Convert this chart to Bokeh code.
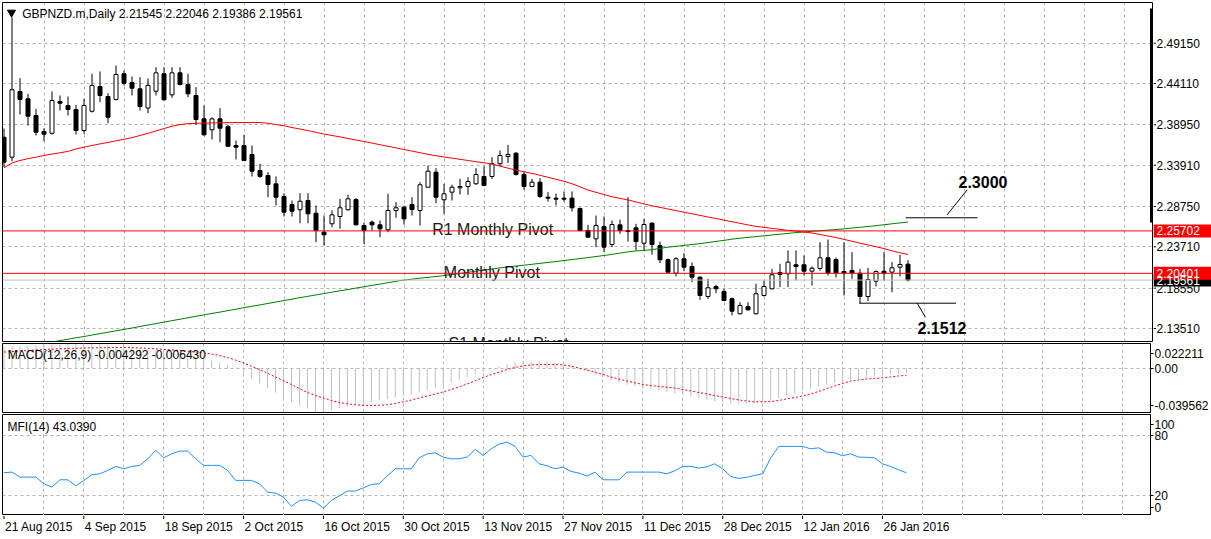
from bokeh.plotting import figure
from bokeh.layouts import column, row
from bokeh.models import Range1d, FixedTicker, Grid, Span, ColumnDataSource
from bokeh.core.properties import value
from bokeh.embed import file_html
from bokeh.resources import INLINE

# ---------------- data ----------------
symbol = "GBPNZD.m"
timeframe = "Daily"

open_price = [2.3740, 2.3491, 2.4312, 2.4220, 2.4012, 2.3812, 2.3790, 2.4187, 2.4137, 2.4087,
              2.3824, 2.4065, 2.4374, 2.4249, 2.4212, 2.4533, 2.4424, 2.4345, 2.4105, 2.4315,
              2.4533, 2.4270, 2.4545, 2.4399, 2.4262, 2.3970, 2.3833, 2.3970, 2.3874, 2.3637,
              2.3637, 2.3525, 2.3325, 2.3262, 2.3158, 2.3000, 2.2900, 2.2834, 2.2950, 2.2791,
              2.2554, 2.2659, 2.2750, 2.2834, 2.2962, 2.2637, 2.2679, 2.2646, 2.2584, 2.2825,
              2.2866, 2.2900, 2.2825, 2.3116, 2.3304, 2.2959, 2.3054, 2.3109, 2.3125, 2.3159,
              2.3250, 2.3250, 2.3409, 2.3500, 2.3541, 2.3275, 2.3125, 2.3179, 2.2991, 2.2979,
              2.2979, 2.2979, 2.2850, 2.2575, 2.2471, 2.2625, 2.2400, 2.2646, 2.2575, 2.2609,
              2.2416, 2.2666, 2.2387, 2.2210, 2.2042, 2.2222, 2.2126, 2.1992, 2.1751, 2.1876,
              2.1814, 2.1722, 2.1535, 2.1626, 2.1535, 2.1763, 2.1847, 2.2051, 2.2035, 2.2147,
              2.2147, 2.2067, 2.2101, 2.2234, 2.2213, 2.2063, 2.2076, 2.2042, 2.1751, 2.1942,
              2.2067, 2.2055, 2.2117, 2.21545]
high_price = [2.3849, 2.5239, 2.4478, 2.4283, 2.4095, 2.3853, 2.4312, 2.4262, 2.4249, 2.4145,
              2.4220, 2.4533, 2.4562, 2.4290, 2.4637, 2.4574, 2.4499, 2.4490, 2.4474, 2.4615,
              2.4615, 2.4615, 2.4615, 2.4533, 2.4366, 2.4137, 2.3990, 2.4103, 2.3895, 2.3699,
              2.3770, 2.3637, 2.3409, 2.3304, 2.3250, 2.3041, 2.2950, 2.3041, 2.3041, 2.2887,
              2.2762, 2.2825, 2.2971, 2.3021, 2.2979, 2.2675, 2.2700, 2.2700, 2.3034, 2.2929,
              2.2887, 2.2991, 2.3179, 2.3387, 2.3354, 2.3159, 2.3146, 2.3221, 2.3241, 2.3354,
              2.3375, 2.3491, 2.3575, 2.3645, 2.3554, 2.3304, 2.3221, 2.3229, 2.3054, 2.3037,
              2.3062, 2.3062, 2.2862, 2.2646, 2.2762, 2.2750, 2.2700, 2.2712, 2.2991, 2.2659,
              2.2721, 2.2679, 2.2437, 2.2226, 2.2242, 2.2292, 2.2176, 2.2001, 2.1972, 2.1897,
              2.1847, 2.1738, 2.1679, 2.1679, 2.1910, 2.1951, 2.2097, 2.2160, 2.2326, 2.2326,
              2.2263, 2.2126, 2.2429, 2.2462, 2.2238, 2.2429, 2.2305, 2.2097, 2.2109, 2.2076,
              2.2305, 2.2180, 2.2270, 2.22046]
low_price = [2.3366, 2.3441, 2.4024, 2.3886, 2.3762, 2.3690, 2.3774, 2.4074, 2.4012, 2.3774,
             2.3783, 2.4049, 2.4178, 2.3915, 2.4199, 2.4387, 2.4262, 2.4074, 2.4040, 2.4262,
             2.4199, 2.4233, 2.4387, 2.4240, 2.3895, 2.3762, 2.3711, 2.3678, 2.3618, 2.3462,
             2.3444, 2.3250, 2.3234, 2.2991, 2.2887, 2.2750, 2.2750, 2.2666, 2.2666, 2.2429,
             2.2387, 2.2616, 2.2596, 2.2825, 2.2637, 2.2409, 2.2575, 2.2492, 2.2554, 2.2734,
             2.2650, 2.2762, 2.2637, 2.3109, 2.2916, 2.2784, 2.2950, 2.3025, 2.3021, 2.3146,
             2.3129, 2.3221, 2.3375, 2.3416, 2.3262, 2.3084, 2.3116, 2.2984, 2.2937, 2.2887,
             2.2937, 2.2812, 2.2566, 2.2484, 2.2367, 2.2304, 2.2367, 2.2534, 2.2437, 2.2326,
             2.2326, 2.2272, 2.2167, 2.2045, 2.2001, 2.2067, 2.1930, 2.1710, 2.1722, 2.1792,
             2.1692, 2.1514, 2.1526, 2.1576, 2.1526, 2.1751, 2.1838, 2.1867, 2.1867, 2.1951,
             2.2013, 2.1888, 2.2076, 2.2013, 2.1988, 2.1763, 2.1972, 2.1667, 2.1692, 2.1876,
             2.1951, 2.1805, 2.2001, 2.19386]
close_price = [2.3429, 2.4333, 2.4212, 2.4003, 2.3803, 2.3778, 2.4199, 2.4165, 2.4087, 2.3824,
               2.4137, 2.4387, 2.4262, 2.3990, 2.4524, 2.4415, 2.4353, 2.4124, 2.4387, 2.4545,
               2.4208, 2.4545, 2.4399, 2.4283, 2.3962, 2.3770, 2.3970, 2.3853, 2.3628, 2.3616,
               2.3450, 2.3316, 2.3250, 2.3150, 2.2991, 2.2804, 2.2816, 2.2941, 2.2784, 2.2575,
               2.2521, 2.2771, 2.2859, 2.2971, 2.2646, 2.2575, 2.2646, 2.2596, 2.2825, 2.2859,
               2.2721, 2.2837, 2.3146, 2.3316, 2.2991, 2.3034, 2.3116, 2.3125, 2.3187, 2.3275,
               2.3137, 2.3409, 2.3512, 2.3525, 2.3275, 2.3125, 2.3179, 2.3000, 2.2979, 2.2966,
               2.2966, 2.2859, 2.2575, 2.2492, 2.2637, 2.2367, 2.2650, 2.2575, 2.2562, 2.2437,
               2.2650, 2.2400, 2.2210, 2.2055, 2.2222, 2.2117, 2.1992, 2.1763, 2.1860, 2.1847,
               2.1701, 2.1567, 2.1638, 2.1584, 2.1785, 2.1876, 2.2022, 2.2026, 2.2180, 2.2126,
               2.2067, 2.2104, 2.2234, 2.2045, 2.2045, 2.2045, 2.2045, 2.1751, 2.1963, 2.2063,
               2.2042, 2.2109, 2.2151, 2.19561]

ma_red = [2.3359, 2.3419, 2.3450, 2.3472, 2.3492, 2.3512, 2.3530, 2.3546, 2.3564, 2.3594,
          2.3616, 2.3637, 2.3657, 2.3675, 2.3695, 2.3715, 2.3735, 2.3762, 2.3789, 2.3819,
          2.3849, 2.3878, 2.3899, 2.3910, 2.3914, 2.3917, 2.3919, 2.3920, 2.3923, 2.3924,
          2.3924, 2.3924, 2.3924, 2.3915, 2.3899, 2.3883, 2.3861, 2.3843, 2.3824, 2.3802,
          2.3780, 2.3762, 2.3745, 2.3725, 2.3705, 2.3687, 2.3667, 2.3647, 2.3627, 2.3607,
          2.3587, 2.3567, 2.3547, 2.3527, 2.3509, 2.3494, 2.3479, 2.3464, 2.3450, 2.3435,
          2.3421, 2.3405, 2.3380, 2.3354, 2.3329, 2.3309, 2.3289, 2.3265, 2.3240, 2.3215,
          2.3190, 2.3159, 2.3121, 2.3081, 2.3052, 2.3025, 2.2997, 2.2977, 2.2957, 2.2932,
          2.2907, 2.2884, 2.2864, 2.2844, 2.2824, 2.2804, 2.2784, 2.2764, 2.2744, 2.2725,
          2.2705, 2.2685, 2.2665, 2.2645, 2.2627, 2.2615, 2.2602, 2.2590, 2.2577, 2.2567,
          2.2556, 2.2544, 2.2526, 2.2506, 2.2487, 2.2464, 2.2441, 2.2417, 2.2395, 2.2372,
          2.2350, 2.2322, 2.2297, 2.2276]
ma_green = [2.1064, 2.1083, 2.1101, 2.1120, 2.1139, 2.1160, 2.1181, 2.1200, 2.1217, 2.1235,
            2.1251, 2.1269, 2.1287, 2.1305, 2.1322, 2.1340, 2.1357, 2.1376, 2.1395, 2.1412,
            2.1431, 2.1449, 2.1467, 2.1485, 2.1504, 2.1521, 2.1539, 2.1556, 2.1575, 2.1592,
            2.1611, 2.1629, 2.1646, 2.1664, 2.1682, 2.1700, 2.1718, 2.1737, 2.1753, 2.1771,
            2.1788, 2.1805, 2.1822, 2.1838, 2.1856, 2.1872, 2.1890, 2.1906, 2.1923, 2.1941,
            2.1956, 2.1967, 2.1979, 2.1990, 2.2001, 2.2012, 2.2025, 2.2039, 2.2052, 2.2067,
            2.2081, 2.2095, 2.2108, 2.2120, 2.2131, 2.2142, 2.2153, 2.2165, 2.2176, 2.2187,
            2.2200, 2.2212, 2.2225, 2.2237, 2.2250, 2.2263, 2.2278, 2.2293, 2.2308, 2.2320,
            2.2326, 2.2336, 2.2352, 2.2367, 2.2378, 2.2389, 2.2400, 2.2411, 2.2425, 2.2439,
            2.2452, 2.2467, 2.2479, 2.2489, 2.2499, 2.2509, 2.2519, 2.2529, 2.2539, 2.2549,
            2.2557, 2.2565, 2.2572, 2.2580, 2.2587, 2.2596, 2.2606, 2.2616, 2.2625, 2.2636,
            2.2647, 2.2659, 2.2670, 2.2681]

macd_main = [0.0190, 0.0196, 0.0200, 0.0204, 0.0207, 0.0210, 0.0213, 0.0216, 0.0218, 0.0220,
             0.022211, 0.0221, 0.0219, 0.0213, 0.0205, 0.0196, 0.0186, 0.0176, 0.0165, 0.0155,
             0.0145, 0.0136, 0.0126, 0.0114, 0.0100, 0.0085, 0.0068, 0.0048, 0.0026, 0.0002,
             -0.0045, -0.0090, -0.0138, -0.0180, -0.0220, -0.0265, -0.0305, -0.0337, -0.0365, -0.039562,
             -0.0385, -0.0376, -0.0362, -0.0345, -0.0330, -0.0318, -0.0305, -0.0292, -0.0280, -0.0266,
             -0.0250, -0.0236, -0.0220, -0.0200, -0.0178, -0.0155, -0.0130, -0.0105, -0.0080, -0.0055,
             -0.0030, -0.0008, 0.0015, 0.0035, 0.0052, 0.0062, 0.0066, 0.0064, 0.0058, 0.0048,
             0.0035, 0.0018, -0.0005, -0.0030, -0.0058, -0.0085, -0.0110, -0.0132, -0.0150, -0.0165,
             -0.0178, -0.0190, -0.0202, -0.0215, -0.0228, -0.0240, -0.0255, -0.0270, -0.0285, -0.0298,
             -0.0310, -0.0320, -0.0325, -0.0322, -0.0315, -0.0305, -0.0290, -0.0272, -0.0250, -0.0228,
             -0.0205, -0.0185, -0.0165, -0.0148, -0.0132, -0.0118, -0.0105, -0.0095, -0.0085, -0.0075,
             -0.0065, -0.0056, -0.0049, -0.004292]
macd_signal = [0.0145, 0.0150, 0.0154, 0.0159, 0.0163, 0.0168, 0.0171, 0.0174, 0.0177, 0.0179,
               0.0182, 0.0183, 0.0184, 0.0185, 0.0186, 0.0185, 0.0184, 0.0182, 0.0179, 0.0174,
               0.0170, 0.0164, 0.0159, 0.0153, 0.0145, 0.0136, 0.0127, 0.0114, 0.0096, 0.0073,
               0.0046, 0.0017, -0.0012, -0.0046, -0.0080, -0.0114, -0.0148, -0.0184, -0.0220, -0.0247,
               -0.0269, -0.0292, -0.0310, -0.0322, -0.0331, -0.0335, -0.0337, -0.0335, -0.0331, -0.0319,
               -0.0304, -0.0288, -0.0269, -0.0251, -0.0233, -0.0214, -0.0193, -0.0169, -0.0143, -0.0114,
               -0.0085, -0.0059, -0.0035, -0.0012, 0.0006, 0.0020, 0.0029, 0.0032, 0.0033, 0.0032,
               0.0030, 0.0017, 0.0001, -0.0017, -0.0037, -0.0057, -0.0080, -0.0098, -0.0116, -0.0132,
               -0.0148, -0.0157, -0.0166, -0.0173, -0.0179, -0.0193, -0.0206, -0.0220, -0.0233, -0.0247,
               -0.0260, -0.0274, -0.0287, -0.0296, -0.0304, -0.0304, -0.0301, -0.0292, -0.0278, -0.0265,
               -0.0251, -0.0233, -0.0211, -0.0186, -0.0161, -0.0139, -0.0118, -0.0107, -0.0098, -0.0093,
               -0.0087, -0.0080, -0.0071, -0.006430]

mfi = [43.1, 43.7, 38.7, 38.7, 38.7, 32.0, 28.7, 36.0, 36.0, 30.0,
       35.4, 41.0, 42.0, 45.4, 49.4, 47.0, 49.4, 50.4, 57.0, 65.4,
       58.0, 62.0, 64.7, 64.7, 57.0, 50.4, 50.4, 50.4, 45.4, 35.4,
       35.4, 35.4, 32.0, 23.7, 22.7, 18.7, 9.4, 15.4, 16.0, 13.7,
       7.7, 15.4, 20.0, 24.7, 24.7, 28.0, 31.4, 32.0, 40.0, 47.0,
       47.0, 47.0, 58.0, 62.0, 63.0, 58.7, 57.0, 57.0, 58.7, 66.4,
       60.4, 67.0, 71.7, 73.7, 69.4, 58.7, 60.4, 52.0, 50.0, 47.0,
       48.7, 44.4, 42.7, 39.7, 43.7, 36.0, 36.0, 36.0, 43.7, 43.7,
       43.7, 43.7, 43.7, 42.0, 45.0, 49.4, 49.4, 47.7, 49.0, 52.0,
       47.0, 39.4, 37.4, 38.5, 40.4, 42.0, 57.7, 69.4, 69.4, 69.4,
       69.4, 67.0, 68.0, 63.7, 63.0, 60.0, 62.0, 58.7, 58.5, 58.0,
       52.0, 49.4, 46.0, 43.039]

date_tick_bars = [0, 10, 20, 30, 40, 50, 60, 70, 80, 90, 100, 110]
date_tick_labels = ["21 Aug 2015", "4 Sep 2015", "18 Sep 2015", "2 Oct 2015", "16 Oct 2015",
                    "30 Oct 2015", "13 Nov 2015", "27 Nov 2015", "11 Dec 2015", "28 Dec 2015",
                    "12 Jan 2016", "26 Jan 2016"]
price_ticks = [2.49150, 2.44110, 2.38950, 2.33910, 2.28750, 2.23710, 2.18550, 2.13510]
mfi_ticks = [100, 80, 20, 0]
mfi_levels = [20, 80]

pivot_r1 = 2.25702
pivot_p = 2.20401
pivot_s1 = 2.1164
pivot_labels = ["R1 Monthly Pivot", "Monthly Pivot", "S1 Monthly Pivot"]

level_hi_text = "2.3000"
level_hi_price = 2.2734
level_hi_bars = [112.7, 121.7]
level_lo_text = "2.1512"
level_lo_price = 2.1667
level_lo_bars = [106.9, 119.0]

# ---------------- layout constants ----------------
FONT = "Liberation Sans"
GRID = "#b4b4b4"
W = 1211
FL = 2                 # frame left (px)
FW = 1150              # frame width (px)
RB = W - FL - FW       # right border for the price scale
BPX = 8.0              # px per bar
X0 = -(3.5 - FL) / BPX
X1 = X0 + FW / BPX
x_range = Range1d(X0, X1)
bars = list(range(len(close_price)))
vgrid_ticks = list(range(5, 145, 5))

MAIN_H, MAIN_T, MAIN_B = 342, 2, 1
MAIN_FH = MAIN_H - MAIN_T - MAIN_B
MAIN_PPU = 800.5
MAIN_Y1 = price_ticks[0] + (42.7 - MAIN_T) / MAIN_PPU
MAIN_Y0 = MAIN_Y1 - MAIN_FH / MAIN_PPU
main_y_range = Range1d(MAIN_Y0, MAIN_Y1)
SCALE_W = W - (FL + FW + 1)


def mx(px):
    return X0 + (px - FL) / BPX


def my(py):
    return MAIN_Y1 - (py - MAIN_T) / MAIN_PPU


def make_fig(height, y_range, top, bottom, yaxis=True, width=W, right=RB):
    p = figure(width=width, height=height, x_range=x_range, y_range=y_range, title=None,
               output_backend="svg", toolbar_location=None,
               x_axis_location=None, y_axis_location="right" if yaxis else None,
               min_border_left=FL, min_border_right=right,
               min_border_top=top, min_border_bottom=bottom,
               background_fill_color="white", border_fill_color="white")
    p.xgrid.visible = False
    p.ygrid.visible = False
    p.outline_line_color = "black"
    p.outline_line_width = 1
    if yaxis:
        ax = p.yaxis[0]
        ax.axis_line_color = "black"
        ax.major_tick_line_color = "black"
        ax.major_tick_out = 3
        ax.major_tick_in = 0
        ax.minor_tick_line_color = None
        ax.major_label_standoff = 1
        ax.major_label_text_font = FONT
        ax.major_label_text_font_size = "12px"
        ax.major_label_text_color = "black"
    return p


def add_grid(p, yticks):
    p.add_layout(Grid(dimension=0, ticker=FixedTicker(ticks=vgrid_ticks),
                      grid_line_color=GRID, grid_line_dash="3 3"))
    if yticks:
        p.add_layout(Grid(dimension=1, ticker=FixedTicker(ticks=yticks),
                          grid_line_color=GRID, grid_line_dash="3 3"))


# ---------------- main price panel ----------------
p = make_fig(MAIN_H, main_y_range, MAIN_T, MAIN_B, yaxis=False, width=FL + FW + 1, right=1)
add_grid(p, price_ticks)

src = ColumnDataSource(dict(
    x=bars, o=open_price, h=high_price, l=low_price, c=close_price,
    top=[max(a, b) for a, b in zip(open_price, close_price)],
    bottom=[min(a, b) for a, b in zip(open_price, close_price)],
    fill=["white" if c >= o else "black" for o, c in zip(open_price, close_price)],
))
p.segment(x0="x", y0="l", x1="x", y1="h", source=src, line_color="black", line_width=1)
p.vbar(x="x", width=0.5, top="top", bottom="bottom", source=src,
       fill_color="fill", line_color="black", line_width=1)

p.line(bars, ma_green, line_color="#008000", line_width=1)
p.line(bars, ma_red, line_color="red", line_width=1)

for lvl in (pivot_r1, pivot_p, pivot_s1):
    p.add_layout(Span(location=lvl, dimension="width", line_color="red", line_width=1))
p.add_layout(Span(location=close_price[-1], dimension="width", line_color="#c0c0c0", line_width=1))

p.text(x=[mx(431.7), mx(443.3), mx(448.0)],
       y=[pivot_r1 + 1.0 / MAIN_PPU, pivot_p + 0.5 / MAIN_PPU, pivot_s1],
       text=pivot_labels, text_font=value(FONT), text_font_size="16px",
       text_align="left", text_baseline="alphabetic", text_color="#1a1a1a")

# analyst levels
p.segment(x0=[level_hi_bars[0], level_lo_bars[0]], y0=[level_hi_price, level_lo_price],
          x1=[level_hi_bars[1], level_lo_bars[1]], y1=[level_hi_price, level_lo_price],
          line_color="black", line_width=1)
p.segment(x0=[mx(946.7), mx(916.7)], y0=[my(214.3), my(302.7)],
          x1=[mx(966.7), mx(925.0)], y1=[my(189.3), my(316.7)],
          line_color="black", line_width=1)
p.text(x=[mx(958.0), mx(917.0)], y=[my(181.7), my(327.0)],
       text=[level_hi_text, level_lo_text], text_font=value(FONT), text_font_size="16px",
       text_font_style="bold", text_align="left", text_baseline="middle", text_color="black")

# title
title = "%s,%s %.5f %.5f %.5f %.5f" % (symbol, timeframe, open_price[-1], high_price[-1],
                                       low_price[-1], close_price[-1])
p.scatter(x=[mx(11.0)], y=[my(12.0)], marker="inverted_triangle", size=8,
          fill_color="black", line_color="black")
p.text(x=[mx(21.7)], y=[my(13.3)], text=[title], text_font=value(FONT), text_font_size="12px",
       text_align="left", text_baseline="middle", text_color="black")

# thick bar at the right edge of the chart
p.segment(x0=[mx(1151.0)], y0=[my(8)], x1=[mx(1151.0)], y1=[my(222)],
          line_color="black", line_width=3)

# ---------------- main price scale (right) ----------------
ps = figure(width=SCALE_W, height=MAIN_H, x_range=Range1d(0, SCALE_W), y_range=main_y_range,
            title=None, output_backend="svg", toolbar_location=None,
            x_axis_location=None, y_axis_location=None,
            min_border_left=0, min_border_right=0, min_border_top=MAIN_T, min_border_bottom=MAIN_B,
            background_fill_color="white", border_fill_color="white")
ps.xgrid.visible = False
ps.ygrid.visible = False
ps.outline_line_color = None
ps.segment(x0=[0] * len(price_ticks), y0=price_ticks, x1=[2.5] * len(price_ticks), y1=price_ticks,
           line_color="black", line_width=1)
ps.text(x=[3] * len(price_ticks), y=price_ticks, text=["%.5f" % t for t in price_ticks],
        text_font=value(FONT), text_font_size="12px", text_align="left",
        text_baseline="middle", text_color="black")
box_levels = [close_price[-1], pivot_r1, pivot_p]
box_colors = ["black", "red", "red"]
half = 6.5 / MAIN_PPU
ps.quad(left=[0] * 3, right=[SCALE_W] * 3, bottom=[v - half for v in box_levels],
        top=[v + half for v in box_levels], fill_color=box_colors, line_color=None)
ps.text(x=[3] * 3, y=box_levels, text=["%.5f" % v for v in box_levels],
        text_font=value(FONT), text_font_size="12px", text_align="left",
        text_baseline="middle", text_color="white")

# ---------------- MACD panel ----------------
MACD_H, MACD_T, MACD_B = 71, 1, 1
macd_hi = max(macd_main + macd_signal)
macd_lo = min(macd_main + macd_signal)
MACD_PPU = 68.5 / (macd_hi - macd_lo)
pm = make_fig(MACD_H, Range1d(macd_lo - 0.5 / MACD_PPU, macd_hi), MACD_T, MACD_B)
t_top = macd_hi - 10.0 / MACD_PPU
t_bot = macd_lo + 6.5 / MACD_PPU
pm.yaxis[0].ticker = FixedTicker(ticks=[t_top, 0.0, t_bot])
pm.yaxis[0].major_label_overrides = {t_top: "%.6f" % macd_hi, 0.0: "0.00", t_bot: "%.6f" % macd_lo}
add_grid(pm, [0.0])
pm.segment(x0=bars, y0=[0.0] * len(bars), x1=bars, y1=macd_main, line_color="#c0c0c0", line_width=1)
pm.line(bars, macd_signal, line_color="red", line_width=1, line_dash="2 2")
pm.text(x=[mx(7.3)], y=[macd_hi - 11.0 / MACD_PPU],
        text=["MACD(12,26,9) %.6f %.6f" % (macd_main[-1], macd_signal[-1])],
        text_font=value(FONT), text_font_size="12px", text_align="left",
        text_baseline="middle", text_color="black")

# ---------------- MFI panel ----------------
MFI_H, MFI_T, MFI_B = 102, 1, 0
pf = make_fig(MFI_H, Range1d(0.3, 101.3), MFI_T, MFI_B)
f_top = 515.3 - 424.0
f_bot = 515.3 - 506.7
pf.yaxis[0].ticker = FixedTicker(ticks=[f_top, 80, 20, f_bot])
pf.yaxis[0].major_label_overrides = {f_top: str(mfi_ticks[0]), 80: str(mfi_ticks[1]),
                                     20: str(mfi_ticks[2]), f_bot: str(mfi_ticks[3])}
add_grid(pf, mfi_levels)
pf.line(bars, mfi, line_color="#1e90ff", line_width=1)
pf.text(x=[mx(7.0)], y=[101.3 - 12.0], text=["MFI(14) %.4f" % mfi[-1]],
        text_font=value(FONT), text_font_size="12px", text_align="left",
        text_baseline="middle", text_color="black")

# ---------------- date strip ----------------
DATE_H = 24
pd_ = make_fig(DATE_H, Range1d(0, DATE_H), 0, 0, yaxis=False)
pd_.outline_line_color = None
pd_.segment(x0=date_tick_bars, y0=[DATE_H] * len(date_tick_bars), x1=date_tick_bars,
            y1=[DATE_H - 3.5] * len(date_tick_bars), line_color="black", line_width=1)
pd_.text(x=date_tick_bars, y=[DATE_H - 11.7] * len(date_tick_bars), text=date_tick_labels,
         x_offset=1, text_font=value(FONT), text_font_size="12px", text_align="left",
         text_baseline="middle", text_color="black")

layout = column(row(p, ps, spacing=0), pm, pf, pd_, spacing=0)
open("out.html", "w").write(file_html(layout, INLINE))
